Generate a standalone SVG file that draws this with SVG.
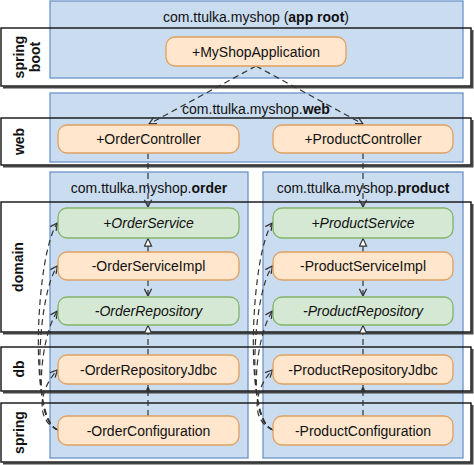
<svg xmlns="http://www.w3.org/2000/svg" width="474" height="465" viewBox="0 0 474 465">
<style>
text{font-family:"Liberation Sans",Arial,sans-serif;font-size:14px;fill:#111}
.pkg{fill:#cadcf0;stroke:#6c94c8;stroke-width:1.3}
.band{fill:none;stroke:#111;stroke-width:1.4}
.shadow{fill:none;stroke:#444;stroke-width:2}
.lbl{font-weight:bold;text-anchor:middle;dominant-baseline:central}
.title{text-anchor:middle}
.cls{fill:#ffe6cc;stroke:#e0a060;stroke-width:1.3}
.ifc{fill:#d5e8d4;stroke:#82b366;stroke-width:1.3}
.nt{text-anchor:middle}
.it{font-style:italic}
.dep{fill:none;stroke:#333;stroke-width:1.2;stroke-dasharray:6 4}
</style>
<defs>
<marker id="open" viewBox="0 0 10 10" refX="9.5" refY="5" markerWidth="9" markerHeight="9" orient="auto" markerUnits="userSpaceOnUse">
<path d="M1.5,1 L9.5,5 L1.5,9" fill="none" stroke="#333" stroke-width="1.4"/>
</marker>
<marker id="tri" viewBox="0 0 10 10" refX="9.5" refY="5" markerWidth="9" markerHeight="9" orient="auto" markerUnits="userSpaceOnUse">
<path d="M1,1 L9.5,5 L1,9 z" fill="#fff" stroke="#333" stroke-width="1.3"/>
</marker>
<marker id="fill" viewBox="0 0 10 10" refX="9.5" refY="5" markerWidth="8" markerHeight="8" orient="auto" markerUnits="userSpaceOnUse">
<path d="M0,1.5 L9.5,5 L0,8.5 L2.5,5 z" fill="#333"/>
</marker>
</defs>
<rect width="474" height="465" fill="#fff"/>

<g id="packages">
<g id="pkg-root"><rect class="pkg" x="50" y="1" width="413" height="77"/>
<text class="title" x="256" y="22">com.ttulka.myshop (<tspan font-weight="bold">app root</tspan>)</text></g>
<g id="pkg-web"><rect class="pkg" x="50" y="93" width="413" height="69"/>
<text class="title" x="256" y="114">com.ttulka.myshop.<tspan font-weight="bold">web</tspan></text></g>
<g id="pkg-order"><rect class="pkg" x="50" y="172" width="198" height="286"/>
<text class="title" x="149" y="193">com.ttulka.myshop.<tspan font-weight="bold">order</tspan></text></g>
<g id="pkg-product"><rect class="pkg" x="263" y="172" width="200" height="286"/>
<text class="title" x="363" y="193">com.ttulka.myshop.<tspan font-weight="bold">product</tspan></text></g>
</g>

<g id="layers">
<g id="layer-springboot"><path class="shadow" d="M472.5,30 V87.5 H3"/><rect class="band" x="1" y="28" width="470" height="58"/>
<text class="lbl" transform="translate(0,57) rotate(-90)"><tspan x="0" y="19">spring</tspan><tspan x="0" y="35">boot</tspan></text></g>
<g id="layer-web"><path class="shadow" d="M472.5,120 V166.5 H3"/><rect class="band" x="1" y="118" width="470" height="47"/>
<text class="lbl" transform="translate(19,141.5) rotate(-90)">web</text></g>
<g id="layer-domain"><path class="shadow" d="M472.5,204 V333.5 H3"/><rect class="band" x="1" y="202" width="470" height="130"/>
<text class="lbl" transform="translate(18,267) rotate(-90)">domain</text></g>
<g id="layer-db"><path class="shadow" d="M472.5,349 V392.5 H3"/><rect class="band" x="1" y="347" width="470" height="44"/>
<text class="lbl" transform="translate(19,369) rotate(-90)">db</text></g>
<g id="layer-spring"><path class="shadow" d="M472.5,405 V463.5 H3"/><rect class="band" x="1" y="403" width="470" height="59"/>
<text class="lbl" transform="translate(19,432.5) rotate(-90)">spring</text></g>
</g>

<g id="connectors">
<path class="dep" d="M256,66 L149,124" marker-end="url(#open)"/>
<path class="dep" d="M256,66 L363,124" marker-end="url(#open)"/>
<path class="dep" d="M148,153 V207" marker-end="url(#open)"/>
<path class="dep" d="M363,153 V207" marker-end="url(#open)"/>
<path class="dep" d="M148,252 V238.5" marker-end="url(#tri)"/>
<path class="dep" d="M363,252 V238.5" marker-end="url(#tri)"/>
<path class="dep" d="M148,280 V296" marker-end="url(#open)"/>
<path class="dep" d="M363,280 V296" marker-end="url(#open)"/>
<path class="dep" d="M148,355 V325.5" marker-end="url(#tri)"/>
<path class="dep" d="M363,355 V325.5" marker-end="url(#tri)"/>
<path class="dep" d="M148,416 V385" marker-end="url(#fill)"/>
<path class="dep" d="M363,416 V385" marker-end="url(#fill)"/>
<path class="dep" d="M58,430 C28,420 36,252 57.5,223" marker-end="url(#open)"/>
<path class="dep" d="M58,430 C30,420 38,292 57.5,266" marker-end="url(#open)"/>
<path class="dep" d="M58,430 C32,420 40,336 57.5,311" marker-end="url(#open)"/>
<path class="dep" d="M58,430 C34,420 40,388 57.5,370" marker-end="url(#open)"/>
<path class="dep" d="M273,430 C243,420 251,252 272.5,223" marker-end="url(#open)"/>
<path class="dep" d="M273,430 C245,420 253,292 272.5,266" marker-end="url(#open)"/>
<path class="dep" d="M273,430 C247,420 255,336 272.5,311" marker-end="url(#open)"/>
<path class="dep" d="M273,430 C249,420 255,388 272.5,370" marker-end="url(#open)"/>
</g>

<g id="MyShopApplication"><rect class="cls" x="166" y="37" width="180" height="29" rx="9"/><text class="nt" x="256" y="56.5">+MyShopApplication</text></g>
<g id="OrderController"><rect class="cls" x="58" y="125" width="181" height="28" rx="9"/><text class="nt" x="148.5" y="144">+OrderController</text></g>
<g id="ProductController"><rect class="cls" x="273" y="125" width="180" height="28" rx="9"/><text class="nt" x="363" y="144">+ProductController</text></g>

<g id="OrderService"><rect class="ifc" x="58" y="208" width="181" height="30" rx="9"/><text class="nt it" x="148.5" y="228">+OrderService</text></g>
<g id="OrderServiceImpl"><rect class="cls" x="58" y="252" width="181" height="28" rx="9"/><text class="nt" x="148.5" y="271">-OrderServiceImpl</text></g>
<g id="OrderRepository"><rect class="ifc" x="58" y="297" width="181" height="28" rx="9"/><text class="nt it" x="148.5" y="316">-OrderRepository</text></g>
<g id="OrderRepositoryJdbc"><rect class="cls" x="58" y="355" width="181" height="29" rx="9"/><text class="nt" x="148.5" y="374.5">-OrderRepositoryJdbc</text></g>
<g id="OrderConfiguration"><rect class="cls" x="58" y="416" width="181" height="29" rx="9"/><text class="nt" x="148.5" y="435.5">-OrderConfiguration</text></g>

<g id="ProductService"><rect class="ifc" x="273" y="208" width="180" height="30" rx="9"/><text class="nt it" x="363" y="228">+ProductService</text></g>
<g id="ProductServiceImpl"><rect class="cls" x="273" y="252" width="180" height="28" rx="9"/><text class="nt" x="363" y="271">-ProductServiceImpl</text></g>
<g id="ProductRepository"><rect class="ifc" x="273" y="297" width="180" height="28" rx="9"/><text class="nt it" x="363" y="316">-ProductRepository</text></g>
<g id="ProductRepositoryJdbc"><rect class="cls" x="273" y="355" width="180" height="29" rx="9"/><text class="nt" x="363" y="374.5">-ProductRepositoryJdbc</text></g>
<g id="ProductConfiguration"><rect class="cls" x="273" y="416" width="180" height="29" rx="9"/><text class="nt" x="363" y="435.5">-ProductConfiguration</text></g>
</svg>
